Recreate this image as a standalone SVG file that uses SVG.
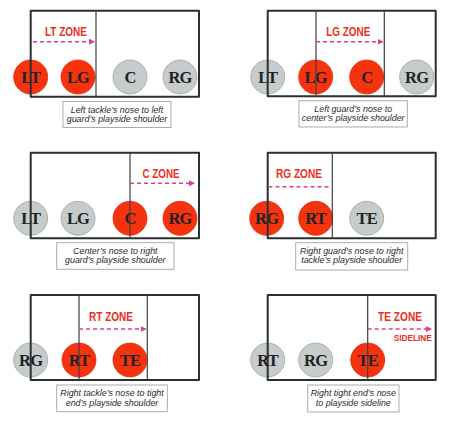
<svg xmlns="http://www.w3.org/2000/svg" width="450" height="421" viewBox="0 0 450 421">
<style>
.bg{fill:#fff}
.box{fill:none;stroke:#2b2f2f;stroke-width:2;stroke-linejoin:round}
.div{stroke:#3a4040;stroke-width:1.2}
.red{fill:#f5330f;stroke:#e52a0c;stroke-width:0.8}
.gry{fill:#c6cbcb;stroke:#9ea5a5;stroke-width:0.8}
.pl{font-family:"Liberation Serif","Times New Roman",serif;font-weight:bold;font-size:16.5px;fill:#222;text-anchor:middle;letter-spacing:-0.8px}
.zone{font-family:"Liberation Sans",Arial,sans-serif;font-weight:bold;font-size:12px;fill:#e8301c;text-anchor:middle}
.side{font-family:"Liberation Sans",Arial,sans-serif;font-weight:bold;font-size:9.5px;fill:#e8301c;text-anchor:end}
.dash{stroke:#d9408f;stroke-width:1.5;stroke-dasharray:4 3;fill:none}
.cap{fill:#fff;stroke:#a8adad;stroke-width:1}
.ct{font-family:"Liberation Sans",Arial,sans-serif;font-style:italic;font-size:8.9px;fill:#2a2a2a;text-anchor:middle}
</style>
<defs>
<marker id="ah" viewBox="0 0 6 6" refX="5" refY="3" markerWidth="4" markerHeight="4" orient="auto" markerUnits="strokeWidth">
<path d="M0,0 L6,3 L0,6 z" fill="#d9408f"/>
</marker>
</defs>
<rect class="bg" x="0" y="0" width="450" height="421"/>

<!-- Panel 1 -->
<g id="panel1">
<g id="p1-LT"><circle class="red" cx="30.7" cy="77" r="17"/><text class="pl" x="30.7" y="82.8">LT</text></g>
<g id="p1-LG"><circle class="red" cx="78" cy="77" r="17"/><text class="pl" x="78" y="82.8">LG</text></g>
<g id="p1-C"><circle class="gry" cx="130" cy="77" r="17"/><text class="pl" x="130" y="82.8">C</text></g>
<g id="p1-RG"><circle class="gry" cx="180" cy="77" r="17"/><text class="pl" x="180" y="82.8">RG</text></g>
<rect class="box" x="30.7" y="10.7" width="168.3" height="86"/>
<line class="div" x1="96" y1="10.7" x2="96" y2="96.7"/>
<text class="zone" x="66" y="36" textLength="42" lengthAdjust="spacingAndGlyphs">LT ZONE</text>
<line class="dash" x1="33" y1="41.7" x2="94" y2="41.7" marker-end="url(#ah)"/>
<g id="p1-caption"><rect class="cap" x="63" y="101.5" width="108" height="26"/>
<text class="ct" x="117" y="112.5">Left tackle’s nose to left</text>
<text class="ct" x="117" y="122">guard’s playside shoulder</text></g>
</g>

<!-- Panel 2 -->
<g id="panel2">
<g id="p2-LT"><circle class="gry" cx="267.7" cy="77" r="17"/><text class="pl" x="267.7" y="82.8">LT</text></g>
<g id="p2-LG"><circle class="red" cx="315.7" cy="77" r="17"/><text class="pl" x="315.7" y="82.8">LG</text></g>
<g id="p2-C"><circle class="red" cx="366.7" cy="77" r="17"/><text class="pl" x="366.7" y="82.8">C</text></g>
<g id="p2-RG"><circle class="gry" cx="416.7" cy="77" r="17"/><text class="pl" x="416.7" y="82.8">RG</text></g>
<rect class="box" x="267.7" y="10.7" width="168" height="85.5"/>
<line class="div" x1="316" y1="10.7" x2="316" y2="96.2"/>
<line class="div" x1="384.3" y1="10.7" x2="384.3" y2="96.2"/>
<text class="zone" x="348.3" y="36" textLength="44" lengthAdjust="spacingAndGlyphs">LG ZONE</text>
<line class="dash" x1="316" y1="41.7" x2="382.5" y2="41.7" marker-end="url(#ah)"/>
<g id="p2-caption"><rect class="cap" x="299" y="100.7" width="108.3" height="26.3"/>
<text class="ct" x="353.2" y="111.7">Left guard’s nose to</text>
<text class="ct" x="353.2" y="121.2">center’s playside shoulder</text></g>
</g>

<!-- Panel 3 -->
<g id="panel3">
<g id="p3-LT"><circle class="gry" cx="30.7" cy="218.3" r="17"/><text class="pl" x="30.7" y="224.1">LT</text></g>
<g id="p3-LG"><circle class="gry" cx="78" cy="218.3" r="17"/><text class="pl" x="78" y="224.1">LG</text></g>
<g id="p3-C"><circle class="red" cx="130" cy="218.3" r="17"/><text class="pl" x="130" y="224.1">C</text></g>
<g id="p3-RG"><circle class="red" cx="180" cy="218.3" r="17"/><text class="pl" x="180" y="224.1">RG</text></g>
<rect class="box" x="30.7" y="152.7" width="168.3" height="85.6"/>
<line class="div" x1="130" y1="152.7" x2="130" y2="238.3"/>
<text class="zone" x="161" y="177.5" textLength="37" lengthAdjust="spacingAndGlyphs">C ZONE</text>
<line class="dash" x1="130" y1="183.3" x2="194" y2="183.3" marker-end="url(#ah)"/>
<g id="p3-caption"><rect class="cap" x="56.7" y="242.7" width="117.3" height="26.6"/>
<text class="ct" x="115.3" y="253.7">Center’s nose to right</text>
<text class="ct" x="115.3" y="263.2">guard’s playside shoulder</text></g>
</g>

<!-- Panel 4 -->
<g id="panel4">
<g id="p4-RG"><circle class="red" cx="266.7" cy="218.3" r="17"/><text class="pl" x="266.7" y="224.1">RG</text></g>
<g id="p4-RT"><circle class="red" cx="315.7" cy="218.3" r="17"/><text class="pl" x="315.7" y="224.1">RT</text></g>
<g id="p4-TE"><circle class="gry" cx="366.7" cy="218.3" r="17"/><text class="pl" x="366.7" y="224.1">TE</text></g>
<rect class="box" x="267.7" y="152.7" width="168" height="85.6"/>
<line class="div" x1="332.3" y1="152.7" x2="332.3" y2="238.3"/>
<text class="zone" x="299" y="177.5" textLength="46" lengthAdjust="spacingAndGlyphs">RG ZONE</text>
<line class="dash" x1="268.5" y1="186.7" x2="331.5" y2="186.7"/>
<g id="p4-caption"><rect class="cap" x="295.7" y="242.7" width="112" height="27.3"/>
<text class="ct" x="351.7" y="253.7">Right guard’s nose to right</text>
<text class="ct" x="351.7" y="263.2">tackle’s playside shoulder</text></g>
</g>

<!-- Panel 5 -->
<g id="panel5">
<g id="p5-RG"><circle class="gry" cx="30.7" cy="360" r="17"/><text class="pl" x="30.7" y="365.8">RG</text></g>
<g id="p5-RT"><circle class="red" cx="79" cy="360" r="17"/><text class="pl" x="79" y="365.8">RT</text></g>
<g id="p5-TE"><circle class="red" cx="130" cy="360" r="17"/><text class="pl" x="130" y="365.8">TE</text></g>
<rect class="box" x="30.7" y="295" width="168.3" height="85"/>
<line class="div" x1="79" y1="295" x2="79" y2="380"/>
<line class="div" x1="147.3" y1="295" x2="147.3" y2="380"/>
<text class="zone" x="111" y="320.5" textLength="44" lengthAdjust="spacingAndGlyphs">RT ZONE</text>
<line class="dash" x1="79" y1="329" x2="145.5" y2="329" marker-end="url(#ah)"/>
<g id="p5-caption"><rect class="cap" x="56.7" y="385" width="110.6" height="26.7"/>
<text class="ct" x="112" y="396">Right tackle’s nose to tight</text>
<text class="ct" x="112" y="405.5">end’s playside shoulder</text></g>
</g>

<!-- Panel 6 -->
<g id="panel6">
<g id="p6-RT"><circle class="gry" cx="267.7" cy="360" r="17"/><text class="pl" x="267.7" y="365.8">RT</text></g>
<g id="p6-RG"><circle class="gry" cx="315.7" cy="360" r="17"/><text class="pl" x="315.7" y="365.8">RG</text></g>
<g id="p6-TE"><circle class="red" cx="367.7" cy="360" r="17"/><text class="pl" x="367.7" y="365.8">TE</text></g>
<rect class="box" x="267.7" y="295" width="168" height="85"/>
<line class="div" x1="367.7" y1="295" x2="367.7" y2="380"/>
<text class="zone" x="400" y="320.5" textLength="44" lengthAdjust="spacingAndGlyphs">TE ZONE</text>
<line class="dash" x1="367.7" y1="329" x2="431" y2="329" marker-end="url(#ah)"/>
<text class="side" x="431.7" y="340.5" textLength="38" lengthAdjust="spacingAndGlyphs">SIDELINE</text>
<g id="p6-caption"><rect class="cap" x="307.7" y="385" width="91.3" height="27"/>
<text class="ct" x="353.3" y="396">Right tight end’s nose</text>
<text class="ct" x="353.3" y="405.5">to playside sideline</text></g>
</g>
</svg>
